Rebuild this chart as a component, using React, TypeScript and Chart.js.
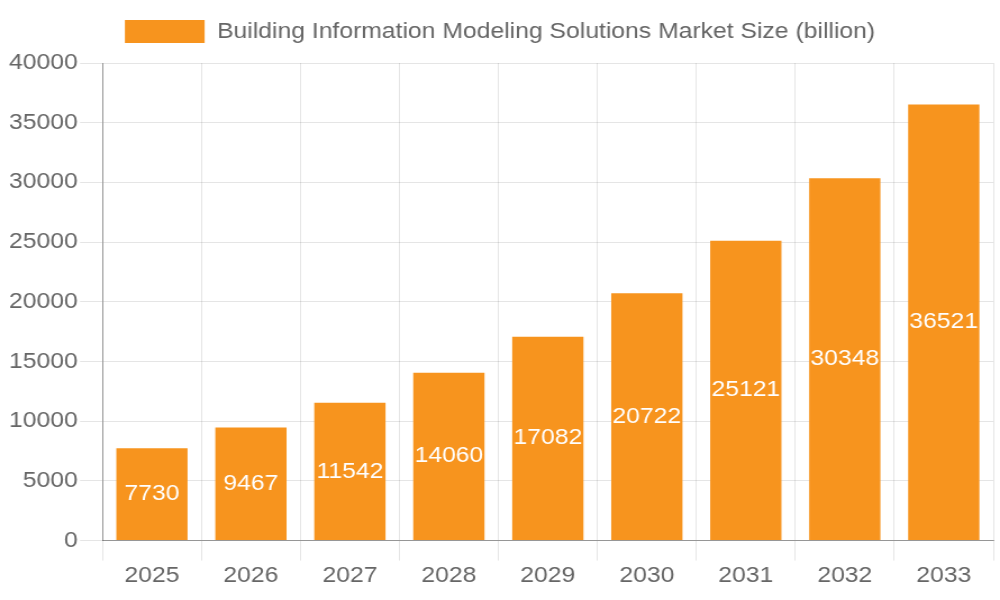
import React, { useEffect, useRef } from "react";
import { Chart, registerables } from "chart.js";

Chart.register(...registerables);

const categories = ["2025", "2026", "2027", "2028", "2029", "2030", "2031", "2032", "2033"];
const marketSize = [7730, 9467, 11542, 14060, 17082, 20722, 25121, 30348, 36521];
const seriesLabel = "Building Information Modeling Solutions Market Size (billion)";
const yTicksMax = 40000;
const yTickStep = 5000;

const FONT = "'Liberation Sans', Arial, sans-serif";
const CANVAS_W = 890;
const CANVAS_H = 600;

const centerLabels = {
  id: "centerLabels",
  afterDatasetsDraw(chart: any) {
    const { ctx } = chart;
    chart.data.datasets.forEach((ds: any, i: number) => {
      const meta = chart.getDatasetMeta(i);
      meta.data.forEach((bar: any, j: number) => {
        const props = bar.getProps(["x", "y", "base"], true);
        const cy = (props.y + props.base) / 2;
        ctx.save();
        ctx.fillStyle = "#ffffff";
        ctx.font = `22px ${FONT}`;
        ctx.textAlign = "center";
        ctx.textBaseline = "middle";
        ctx.fillText(String(ds.data[j]), props.x, cy);
        ctx.restore();
      });
    });
  },
};

const legendGap = {
  id: "legendGap",
  beforeInit(chart: any) {
    const legend = chart.legend;
    if (!legend) return;
    const origFit = legend.fit;
    legend.fit = function () {
      origFit.call(this);
      this.height += 10;
    };
  },
};

export default function App() {
  const ref = useRef<HTMLCanvasElement | null>(null);

  useEffect(() => {
    document.body.style.margin = "0";
    if (!ref.current) return;
    const chart = new Chart(ref.current, {
      type: "bar",
      data: {
        labels: categories,
        datasets: [
          {
            label: seriesLabel,
            data: marketSize,
            backgroundColor: "#f7941e",
            borderWidth: 0,
          },
        ],
      },
      options: {
        animation: false,
        responsive: false,
        maintainAspectRatio: false,
        devicePixelRatio: 1,
        layout: { padding: { right: 6, left: 6, top: 0, bottom: 9 } },
        plugins: {
          legend: {
            position: "top",
            labels: {
              color: "#666666",
              font: { family: FONT, size: 22 },
              boxWidth: 71,
              boxHeight: 23,
              padding: 20,
            },
          },
          tooltip: { enabled: false },
        },
        scales: {
          x: {
            grid: { color: "rgba(0,0,0,0.1)", tickLength: 20, offset: true },
            border: { color: "rgba(0,0,0,0.35)" },
            ticks: { color: "#666666", font: { family: FONT, size: 22 }, padding: 2 },
          },
          y: {
            min: 0,
            max: yTicksMax,
            grid: { color: "rgba(0,0,0,0.1)", tickLength: 20 },
            border: { color: "rgba(0,0,0,0.35)" },
            ticks: {
              stepSize: yTickStep,
              color: "#666666",
              font: { family: FONT, size: 22 },
              padding: 2,
              callback: (v: any) => String(v),
            },
          },
        },
      },
      plugins: [centerLabels, legendGap],
    });
    return () => chart.destroy();
  }, []);

  return (
    <div style={{ width: 1000, height: 600 }}>
      <canvas
        ref={ref}
        width={CANVAS_W}
        height={CANVAS_H}
        style={{ width: 1000, height: 600, display: "block" }}
      />
    </div>
  );
}
